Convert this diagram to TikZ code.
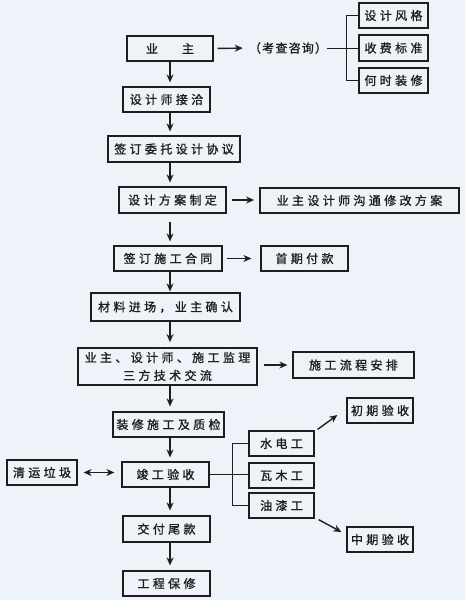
\documentclass[tikz,border=0pt]{standalone}
\usepackage{fontspec}
\newfontfamily\cjk[LetterSpace=28,FakeBold=1.2]{Noto Sans CJK SC}
\newfontfamily\cjknarrow[LetterSpace=10,FakeBold=1.2]{Noto Sans CJK SC}
\usetikzlibrary{arrows.meta,calc}
\definecolor{bgc}{HTML}{EEF3F9}
\definecolor{ink}{HTML}{1E1E1E}
\tikzset{
  box/.style={draw=ink, line width=1.2pt, inner sep=0pt, text=ink,
    font=\cjk\fontsize{12}{18}\selectfont, align=center},
  thickbox/.style={box, line width=1.8pt},
  arr/.style={draw=ink, line width=1.4pt, -{Stealth[length=8pt,width=7pt]}},
  darr/.style={draw=ink, line width=1.4pt, {Stealth[length=8pt,width=7pt]}-{Stealth[length=8pt,width=7pt]}},
  brk/.style={draw=ink, line width=1pt},
}
\begin{document}
\begin{tikzpicture}[x=1pt,y=-1pt]
\fill[bgc] (0,0) rectangle (465,600);
\useasboundingbox (0,0) rectangle (465,600);
\coordinate (spine) at (170,0);

% main column
\node[box, minimum width=86pt, minimum height=25pt] (yz) at (170,48.5) {业\hspace{2em}主};
\node[box, minimum width=87pt, minimum height=25pt] (sjsjq) at (166.5,99.5) {设计师接洽};
\node[box, minimum width=132pt, minimum height=26pt] (qdwt) at (174,149) {签订委托设计协议};
\node[box, minimum width=107pt, minimum height=26pt] (sjfa) at (172.5,200) {设计方案制定};
\node[box, minimum width=108pt, minimum height=25pt] (qdsg) at (168,258.5) {签订施工合同};
\node[box, minimum width=149pt, minimum height=28pt] (cljc) at (165.5,307) {材料进场，业主确认};
\node[thickbox, minimum width=179pt, minimum height=37pt] (sfjl) at (167.5,366.5) {业主、设计师、施工监理\\三方技术交流};
\node[box, minimum width=111pt, minimum height=25pt] (zxsg) at (168.5,424.5) {装修施工及质检};
\node[box, minimum width=87pt, minimum height=25pt] (jgys) at (165.5,474.5) {竣工验收};
\node[box, minimum width=87pt, minimum height=26pt] (jfwk) at (166.5,529) {交付尾款};
\node[box, minimum width=87pt, minimum height=25pt] (gcbx) at (166.5,583.5) {工程保修};

% top right
\node[inner sep=0pt, text=ink, font=\cjknarrow\fontsize{12}{14}\selectfont] (kczx) at (288,48) {（考查咨询）};
\node[box, minimum width=69pt, minimum height=25pt] (sjfg) at (393.5,15.5) {设计风格};
\node[box, minimum width=69pt, minimum height=26pt] (sfbz) at (393.5,48) {收费标准};
\node[box, minimum width=69pt, minimum height=25pt] (hszx) at (393.5,80.5) {何时装修};

% side boxes
\node[thickbox, minimum width=199pt, minimum height=25pt] (gtxg) at (359.5,200.5) {业主设计师沟通修改方案};
\node[box, minimum width=87pt, minimum height=25pt] (sqfk) at (304.5,258.5) {首期付款};
\node[box, minimum width=121pt, minimum height=26pt] (sglc) at (353.5,365) {施工流程安排};
\node[box, minimum width=70pt, minimum height=25pt] (qylj) at (42,472.5) {清运垃圾};
\node[box, minimum width=65pt, minimum height=25pt] (sdg) at (281.5,443.5) {水电工};
\node[box, minimum width=65pt, minimum height=25pt] (wmg) at (281.5,475.5) {瓦木工};
\node[box, minimum width=65pt, minimum height=25pt] (yqg) at (281.5,505.5) {油漆工};
\node[box, minimum width=66pt, minimum height=25pt] (cqys) at (380,410.5) {初期验收};
\node[box, minimum width=66pt, minimum height=25pt] (zqys) at (380,539.5) {中期验收};

% vertical arrows
\draw[arr, shorten >=4pt] (yz.south -| spine) -- (sjsjq.north -| spine);
\draw[arr, shorten >=4pt] (sjsjq.south -| spine) -- (qdwt.north -| spine);
\draw[arr, shorten >=4pt] (qdwt.south -| spine) -- (sjfa.north -| spine);
\draw[arr, shorten <=8pt, shorten >=4pt] (sjfa.south -| spine) -- (qdsg.north -| spine);
\draw[arr, shorten >=1pt] (qdsg.south -| spine) -- (cljc.north -| spine);
\draw[arr, shorten >=5pt] (cljc.south -| spine) -- (sfjl.north -| spine);
\draw[arr, shorten >=5pt] (sfjl.south -| spine) -- (zxsg.north -| spine);
\draw[arr, shorten >=4pt] (zxsg.south -| spine) -- (jgys.north -| spine);
\draw[arr, shorten >=5pt] (jgys.south -| spine) -- (jfwk.north -| spine);
\draw[arr, shorten >=5pt] (jfwk.south -| spine) -- (gcbx.north -| spine);

% horizontal arrows
\draw[arr, shorten <=4pt, shorten >=6pt] (yz.east) -- (kczx.west);
\draw[arr, shorten <=5pt, shorten >=5pt] (sjfa.east) -- (sjfa.east -| gtxg.west);
\draw[arr, shorten <=4pt, shorten >=9pt] (qdsg.east) -- (sqfk.west);
\draw[arr, shorten <=6pt, shorten >=5pt] (sfjl.east |- sglc.west) -- (sglc.west);
\draw[darr, shorten <=6pt, shorten >=7pt] (qylj.east) -- (qylj.east -| jgys.west);

% diagonal arrows
\draw[arr] ([shift={(3,-1)}]sdg.north east) -- ([shift={(-9,4.5)}]cqys.west);
\draw[arr] ([shift={(4,1)}]yqg.south east) -- ([shift={(-5,-7.5)}]zqys.west);

% brackets
\draw[brk] (kczx.east) -- (sfbz.west);
\draw[brk] (sjfg.west) -- ++(-12,0) |- (hszx.west);
\draw[brk] (jgys.east) -- (jgys.east -| wmg.west);
\draw[brk] (sdg.west) -- ++(-16,0) |- (yqg.west);
\end{tikzpicture}
\end{document}
